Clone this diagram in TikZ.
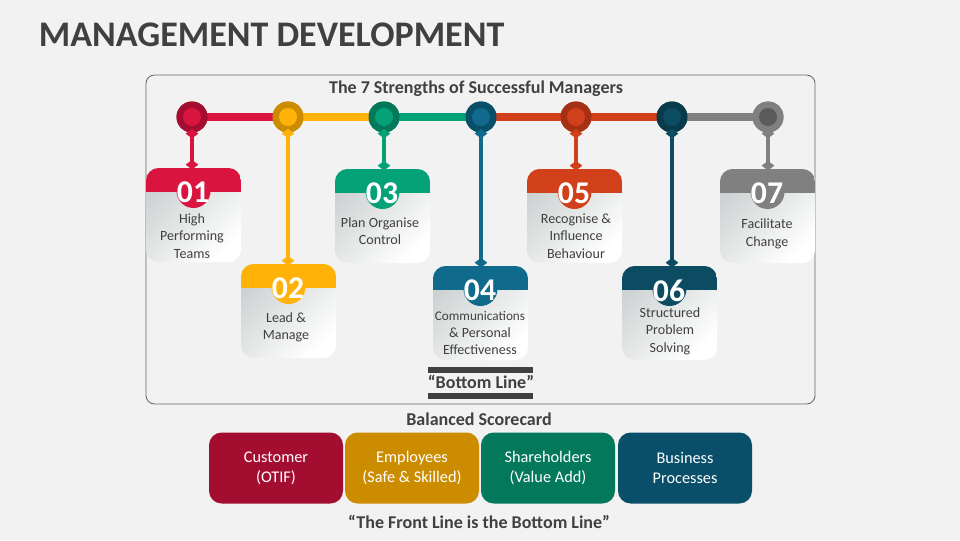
\documentclass[tikz,border=0pt]{standalone}
\usepackage{fontspec}
\setmainfont{Carlito}
\usetikzlibrary{arrows.meta,calc}
\definecolor{pagebg}{HTML}{F2F2F2}
\definecolor{inktext}{HTML}{404040}
\definecolor{cardgrey}{HTML}{CDD1D1}
\definecolor{redA}{HTML}{D9143F}
\definecolor{redB}{HTML}{A30D30}
\definecolor{yelA}{HTML}{FFB30A}
\definecolor{yelB}{HTML}{CC8C00}
\definecolor{grnA}{HTML}{05A177}
\definecolor{grnB}{HTML}{04785A}
\definecolor{bluA}{HTML}{0F6A8C}
\definecolor{bluB}{HTML}{0A4F69}
\definecolor{orgA}{HTML}{D2401B}
\definecolor{orgB}{HTML}{A63014}
\definecolor{navA}{HTML}{0B4C63}
\definecolor{navB}{HTML}{083A4C}
\definecolor{gryA}{HTML}{808080}
\definecolor{gryB}{HTML}{5A5A5A}
\tikzset{
	outerdot/.style={circle, minimum size=31*0.025cm, inner sep=0pt, outer sep=0pt},
	innerdot/.style={circle, minimum size=18*0.025cm, inner sep=0pt, outer sep=0pt},
	railseg/.style={line width=5.4pt, shorten <=-3pt, shorten >=-3pt},
	dropline/.style={line width=3.2pt, {Diamond[length=6.75pt,width=9pt]}-{Diamond[length=6.75pt,width=9pt]}, shorten <=-2.6pt, shorten >=-1pt},
	cardbody/.style={rectangle, rounded corners=9pt, minimum width=95*0.025cm, minimum height=94*0.025cm, inner sep=0pt, outer sep=0pt, shading=axis, left color=cardgrey, right color=white, shading angle=45},
	sumbox/.style={rectangle, rounded corners=9pt, minimum width=134*0.025cm, minimum height=71*0.025cm, align=center, text=white, font=\fontsize{11.6pt}{14.3pt}\selectfont},
	boldline/.style={text=inktext, font=\fontsize{12.8pt}{12.8pt}\selectfont\bfseries},
}
% one card: name, colour, left x, top y, number, text, text position
\def\mcard#1#2#3#4#5#6#7{
	\node[cardbody, anchor=north west] (#1) at (#3, #4) {};
	\begin{scope}
		\clip[rounded corners=9pt] (#3, #4) rectangle (#3+95, #4+94);
		\fill[#2] (#3, #4) rectangle (#3+95, #4+24);
	\end{scope}
	\fill[#2] (#3+47.5, #4+23) circle (17);
	\node[text=white, font=\fontsize{22.5pt}{22.5pt}\selectfont\bfseries] (#1num) at (#3+47, #4+24.5) {#5};
	\node[text=inktext, align=center, font=\fontsize{10pt}{12.4pt}\selectfont] (#1txt) at (#7) {#6};
}

\begin{document}
\begin{tikzpicture}[x=0.025cm, y=-0.025cm]
	\useasboundingbox[fill=pagebg] (0, 0) rectangle (960, 540);
	
	\node[text=inktext, anchor=west, font=\fontsize{25.6pt}{25.6pt}\selectfont\bfseries] (heading) at (34, 34.5) {MANAGEMENT DEVELOPMENT};
	
	\draw[draw=black!60, line width=0.6pt, rounded corners=6pt] (146, 75) rectangle (815, 404);
	\node[boldline] (strengths) at (476, 89) {The 7 Strengths of Successful Managers};
	
	% dots along the rail
	\foreach \nm/\x/\ca/\cb in {d1/192/redA/redB, d2/288/yelA/yelB, d3/384/grnA/grnB, d4/481/bluA/bluB, d5/576/orgA/orgB, d6/672/navA/navB, d7/768/gryB/gryA}{
		\node[outerdot, fill=\cb] (\nm) at (\x, 117) {};
	}
	\draw[railseg, redA] (d1) -- (d2);
	\draw[railseg, yelA] (d2) -- (d3);
	\draw[railseg, grnA] (d3) -- (d4);
	\draw[railseg, orgA] (d4) -- (d5);
	\draw[railseg, orgA] (d5) -- (d6);
	\draw[railseg, gryA] (d6) -- (d7);
	\foreach \nm/\x/\ca/\cb in {d1/192/redA/redB, d2/288/yelA/yelB, d3/384/grnA/grnB, d4/481/bluA/bluB, d5/576/orgA/orgB, d6/672/navA/navB, d7/768/gryB/gryA}{
		\node[outerdot, fill=\cb] at (\nm) {};
		\node[innerdot, fill=\ca] at (\nm) {};
	}
	
	\mcard{c1}{redA}{146}{168}{01}{High\\Performing\\Teams}{192, 236}
	\mcard{c2}{yelA}{241}{264}{02}{Lead \&\\Manage}{286, 327.5}
	\mcard{c3}{grnA}{335}{169}{03}{Plan Organise\\Control}{380, 231}
	\mcard{c4}{bluA}{433}{266}{04}{\fontsize{9.4pt}{11.6pt}\selectfont Communications\\\& Personal\\Effectiveness}{480, 333}
	\mcard{c5}{orgA}{527}{169}{05}{Recognise \&\\Influence\\Behaviour}{576, 236}
	\mcard{c6}{navA}{622}{266}{06}{Structured\\Problem\\Solving}{670, 331}
	\mcard{c7}{gryA}{720}{169}{07}{Facilitate\\Change}{767, 234}
	
	\draw[dropline, redA] (d1.south) -- (d1.south |- c1.north);
	\draw[dropline, yelA] (d2.south) -- (d2.south |- c2.north);
	\draw[dropline, grnA] (d3.south) -- (d3.south |- c3.north);
	\draw[dropline, bluA] (d4.south) -- (d4.south |- c4.north);
	\draw[dropline, orgA] (d5.south) -- (d5.south |- c5.north);
	\draw[dropline, navA] (d6.south) -- (d6.south |- c6.north);
	\draw[dropline, gryA] (d7.south) -- (d7.south |- c7.north);
	
	\node[boldline] (bottomline) at (481, 382) {``Bottom Line''};
	\fill[inktext] (428, 367) rectangle (533, 373);
	\fill[inktext] (428, 393) rectangle (533, 399);
	
	\node[boldline] (scorecard) at (479, 419) {Balanced Scorecard};
	
	\node[sumbox, fill=redB] (s1) at (276, 468) {Customer\\(OTIF)};
	\node[sumbox, fill=yelB] (s2) at (412, 468) {Employees\\(Safe \& Skilled)};
	\node[sumbox, fill=grnB] (s3) at (548, 468) {Shareholders\\(Value Add)};
	\node[sumbox, fill=bluB] (s4) at (685, 468) {Business\\Processes};
	
	\node[boldline] (frontline) at (479, 522) {``The Front Line is the Bottom Line''};
\end{tikzpicture}
\end{document}
